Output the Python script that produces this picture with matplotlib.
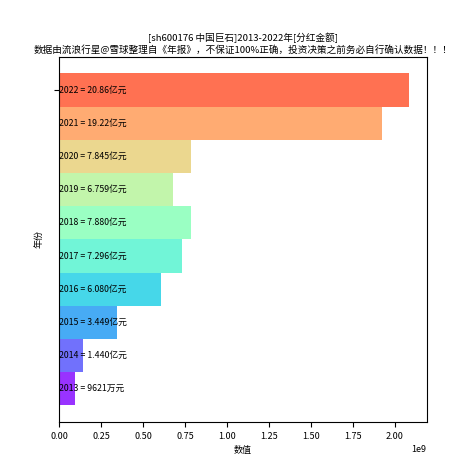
import numpy as np
import matplotlib
matplotlib.use("Agg")
import matplotlib.pyplot as plt
from matplotlib import cm

plt.rcParams['font.family'] = ['Noto Sans CJK SC', 'DejaVu Sans']
plt.rcParams['axes.unicode_minus'] = False

years = ['2013', '2014', '2015', '2016', '2017', '2018', '2019', '2020', '2021', '2022']
values = [9.621e7, 1.440e8, 3.449e8, 6.080e8, 7.296e8, 7.880e8, 6.759e8, 7.845e8, 1.922e9, 2.086e9]
labels = ['9621万元', '1.440亿元', '3.449亿元', '6.080亿元', '7.296亿元',
          '7.880亿元', '6.759亿元', '7.845亿元', '19.22亿元', '20.86亿元']

fig = plt.figure(figsize=(4.74, 4.74), dpi=100)
ax = fig.add_subplot(111)

n = len(years)
pos = np.arange(n)
colors = [cm.rainbow(i / n) for i in range(n)]
ax.barh(pos, values, height=1.0, color=colors, alpha=0.8)

for p, y, lab in zip(pos, years, labels):
    ax.text(0, p, y + ' = ' + lab, ha='left', va='center', fontsize=6.3)

ax.set_ylim(-1, n)
ax.set_yticks([n - 1])
ax.set_yticklabels([''])
ax.tick_params(axis='x', labelsize=6.5)
ax.xaxis.get_offset_text().set_fontsize(6.5)
ax.set_ylabel('年份', fontsize=6.5)
ax.set_xlabel('数值', fontsize=6.5)
ax.set_title('[sh600176 中国巨石]2013-2022年[分红金额]\n'
             '数据由流浪行星@雪球整理自《年报》，不保证100%正确，投资决策之前务必自行确认数据！！！',
             fontsize=6.9, pad=3, linespacing=1.3)

fig.savefig('out.png', dpi=100)
